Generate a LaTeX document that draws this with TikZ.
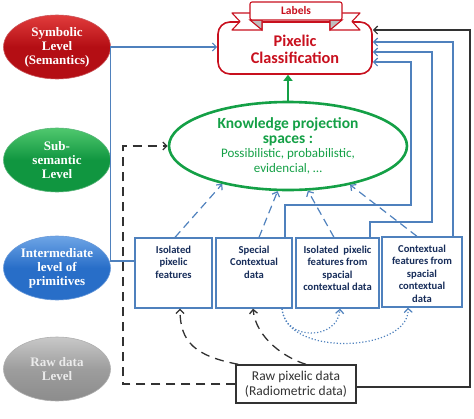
\documentclass[tikz,border=0pt]{standalone}
\usepackage{fontspec}
\setmainfont{Liberation Serif}
\newfontfamily\carlito{Carlito}
\usetikzlibrary{shapes.geometric,arrows.meta}

\definecolor{lvlred}{RGB}{180,14,20}
\definecolor{lvlredhi}{RGB}{225,60,60}
\definecolor{lvlgreen}{RGB}{16,150,64}
\definecolor{lvlgreenhi}{RGB}{80,200,110}
\definecolor{lvlblue}{RGB}{40,110,200}
\definecolor{lvlbluehi}{RGB}{110,165,230}
\definecolor{lvlgray}{RGB}{140,140,140}
\definecolor{lvlgrayhi}{RGB}{200,200,200}
\definecolor{boxblue}{RGB}{79,129,189}
\definecolor{navy}{RGB}{23,45,90}
\definecolor{kgreen}{RGB}{20,160,70}
\definecolor{pcred}{RGB}{200,16,30}
\definecolor{darkline}{RGB}{50,50,50}

\newcommand{\boxtxt}[2]{\parbox[c][54pt][t]{#1}{\centering #2}}
\newcommand{\possfont}{\mdseries\fontsize{13}{14}\selectfont}

\tikzset{
	level/.style={ellipse, minimum width=107pt, minimum height=64pt, inner sep=0pt,
		align=center, text=white, font=\fontsize{13}{14}\selectfont\bfseries, line width=0.6pt},
	featbox/.style={draw=boxblue, fill=white, line width=1.3pt, minimum height=70pt, inner sep=0pt,
		font=\carlito\bfseries\fontsize{10.6}{12.5}\selectfont, text=navy},
	bline/.style={draw=boxblue, line width=1.2pt},
	barb/.style={-{Straight Barb[length=4pt,width=8pt]}},
	bdash/.style={bline, dash pattern=on 8pt off 5pt},
	bdot/.style={draw=boxblue, line width=1.2pt, dotted},
	kdash/.style={draw=darkline, line width=1.3pt, dash pattern=on 9pt off 6pt},
	ribbon/.style={draw=pcred, fill=white, line width=1.1pt, line join=round}
}

\begin{document}
\begin{tikzpicture}[x=1pt, y=-1pt]
	\useasboundingbox (0,0) rectangle (474,418);

	% levels on the left
	\node[level, top color=lvlredhi, bottom color=lvlred, middle color=lvlred, draw=lvlred!70!white] (sym) at (57,47) {Symbolic\\Level\\(Semantics)};
	\node[level, top color=lvlgreenhi, bottom color=lvlgreen, middle color=lvlgreen, draw=lvlgreen!70!white] (sub) at (57,160) {Sub-\\semantic\\Level};
	\node[level, top color=lvlbluehi, bottom color=lvlblue, middle color=lvlblue, draw=lvlblue!70!white] (inter) at (57,268) {Intermediate\\level of\\primitives};
	\node[level, top color=lvlgrayhi, bottom color=lvlgray, middle color=lvlgray!85!white, draw=lvlgray!70!white, text=white!92!black] (rawlvl) at (57,369) {Raw data\\Level};

	% classification with its banner
	\node[draw=pcred, line width=1.6pt, rounded corners=12pt, minimum width=154pt, minimum height=52pt,
		inner sep=0pt, align=center, text=pcred, font=\carlito\bfseries\fontsize{16.3}{17}\selectfont] (pc) at (295,48) {\\[-3pt]Pixelic\\Classification};
	\filldraw[ribbon] (250,13) -- (232,13) -- (240,21.5) -- (232,30) -- (262,30) -- (262,20) -- cycle;
	\filldraw[ribbon] (342,13) -- (360,13) -- (352,21.5) -- (360,30) -- (330,30) -- (330,20) -- cycle;
	\filldraw[draw=pcred, fill=black!25, line width=1.1pt] (250,20) -- (262,20) -- (262,30) -- cycle;
	\filldraw[draw=pcred, fill=black!25, line width=1.1pt] (342,20) -- (330,20) -- (330,30) -- cycle;
	\node[ribbon, rounded corners=2pt, minimum width=92pt, minimum height=18pt, inner sep=0pt,
		text=pcred, font=\carlito\bfseries\fontsize{11.5}{12}\selectfont] (lab) at (296,11) {Labels};

	% knowledge spaces
	\node[ellipse, draw=kgreen, line width=2.6pt, minimum width=238pt, minimum height=88pt, inner sep=0pt,
		align=center, text=kgreen, font=\carlito\bfseries\fontsize{15.5}{15}\selectfont] (kps) at (288,146) {Knowledge projection\\spaces :\\[-1pt]\possfont Possibilistic, probabilistic,\\\possfont evidencial, \dots};

	% feature boxes
	\node[featbox, minimum width=77pt] (b1) at (173.5,273) {\boxtxt{72pt}{Isolated\\pixelic\\features}};
	\node[featbox, minimum width=76pt] (b2) at (254,273) {\boxtxt{72pt}{Special\\Contextual\\data}};
	\node[featbox, minimum width=83pt] (b3) at (337.5,273) {\boxtxt{82pt}{Isolated\ \ pixelic\\features from\\spacial\\contextual data}};
	\node[featbox, minimum width=80pt] (b4) at (422,272) {\boxtxt{78pt}{Contextual\\features from\\spacial\\contextual\\data}};

	% raw data
	\node[draw=darkline, fill=white, line width=1.4pt, minimum width=120pt, minimum height=38pt, inner sep=0pt,
		align=center, text=darkline, font=\carlito\fontsize{13.5}{14.5}\selectfont] (rawpx) at (296,384) {Raw pixelic data\\(Radiometric data)};

	% solid connectors
	\draw[line width=2.6pt, draw=kgreen, -{Triangle[length=6pt,width=9pt]}] (kps.north) -- (kps.north |- pc.south);
	\draw[bline, barb] ([yshift=12pt]b1.west) -| (sym.east) -- (sym.east -| pc.west);
	\draw[bline, barb] ([xshift=31pt]b4.north) |- ([yshift=6pt]pc.east);
	\draw[bline, barb] ([xshift=32.5pt]b3.north) |- (432,222) |- ([yshift=-4pt]pc.east);
	\draw[bline, barb] ([xshift=31pt]b2.north) |- (411,205) |- ([yshift=-14pt]pc.east);
	\draw[draw=darkline, line width=1.2pt, barb] ([yshift=-3pt]rawpx.east) -| (470,30) -- ([yshift=18pt]pc.east);

	% dashed connectors
	\draw[bdash, barb] ([xshift=1.5pt]b1.north) -- (kps.210);
	\draw[bdash, barb] ([xshift=5pt]b2.north) -- (kps.257);
	\draw[bdash, barb] ([xshift=-3.5pt]b3.north) -- (kps.294);
	\draw[bdash, barb] ([xshift=-5pt]b4.north) -- (kps.328);
	\draw[kdash, barb] (rawpx.west) -| (123,146) -- (kps.west);
	\draw[kdash, barb] ([xshift=3pt]rawpx.north west) .. controls (195,356) and (180,342) .. ([xshift=6.5pt]b1.south);
	\draw[kdash, barb] ([xshift=10pt]rawpx.north) .. controls (285,358) and (256,338) .. ([xshift=-1pt]b2.south);

	% dotted connectors
	\draw[bdot, barb] ([xshift=28pt]b2.south) .. controls (285,342) and (338,340) .. ([xshift=2.5pt]b3.south);
	\draw[bdot, barb] ([xshift=28pt]b2.south) .. controls (286,358) and (410,352) .. ([xshift=-14pt]b4.south);
\end{tikzpicture}
\end{document}
